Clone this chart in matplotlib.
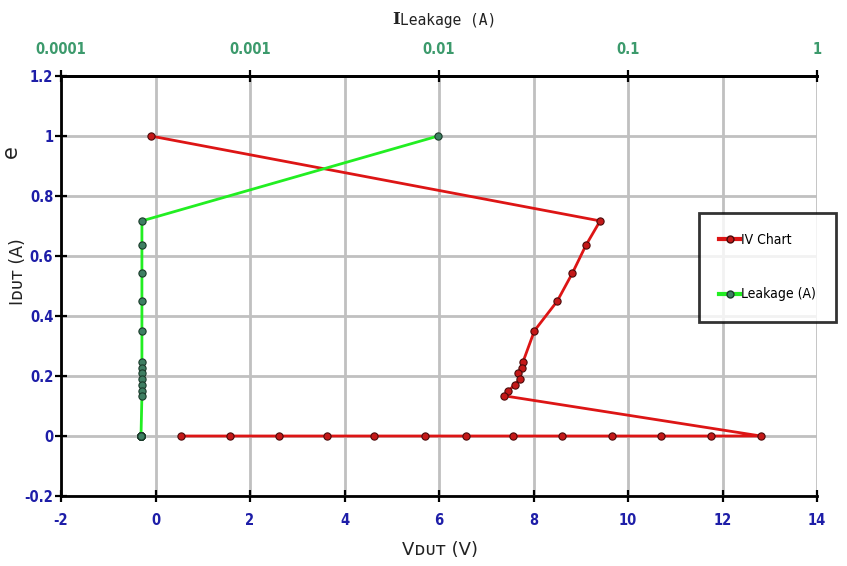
import matplotlib
matplotlib.use("Agg")
import matplotlib.pyplot as plt
from matplotlib.lines import Line2D

# IV sweep
v_dut = [-0.10, 9.41, 9.11, 8.82, 8.50, 8.02, 7.78, 7.76, 7.67, 7.71, 7.60, 7.47, 7.38,
         12.81, 11.76, 10.70, 9.66, 8.60, 7.57, 6.57, 5.70, 4.62, 3.63, 2.61, 1.58, 0.54]
i_dut = [1.00, 0.717, 0.636, 0.542, 0.449, 0.351, 0.248, 0.227, 0.211, 0.190, 0.171, 0.150, 0.134,
         0.0, 0.0, 0.0, 0.0, 0.0, 0.0, 0.0, 0.0, 0.0, 0.0, 0.0, 0.0, 0.0]
leakage = [0.0099] + [2.68e-4] * 12 + [2.65e-4] * 13

x_ticks = [-2, 0, 2, 4, 6, 8, 10, 12, 14]
y_ticks = [-0.2, 0, 0.2, 0.4, 0.6, 0.8, 1.0, 1.2]
y_labels = ["-0.2", "0", "0.2", "0.4", "0.6", "0.8", "1", "1.2"]
top_ticks = [1e-4, 1e-3, 1e-2, 1e-1, 1]
top_labels = ["0.0001", "0.001", "0.01", "0.1", "1"]

narrow = ["Liberation Sans Narrow", "DejaVu Sans"]
blue = "#1e1ea8"
green_txt = "#3c9a6c"

fig = plt.figure(figsize=(8.47, 5.66), dpi=100)
ax = fig.add_axes([61 / 847, 70 / 566, 756 / 847, 420 / 566])

ax.plot(v_dut, i_dut, color="#dd1515", lw=2, marker="o", ms=5.2,
        mfc="#c41818", mec="#4a0a0a", mew=0.8, zorder=3)
ax.set_xlim(-2, 14)
ax.set_ylim(-0.2, 1.2)
ax.set_xticks(x_ticks)
ax.set_xticklabels([str(t) for t in x_ticks])
ax.set_yticks(y_ticks)
ax.set_yticklabels(y_labels)
ax.grid(True, color="#c0c0c0", lw=2)
ax.set_axisbelow(True)
for s in ["left", "bottom", "top"]:
    ax.spines[s].set_linewidth(2)
    ax.spines[s].set_color("black")
ax.spines["right"].set_visible(False)
ax.tick_params(direction="inout", length=9, width=1.6, top=False, right=False)
for lab in ax.get_xticklabels() + ax.get_yticklabels():
    lab.set_family(narrow)
    lab.set_fontweight("bold")
    lab.set_fontstretch("condensed")
    lab.set_fontsize(10.5)
    lab.set_color(blue)
ax.tick_params(axis="x", pad=8)
ax.tick_params(axis="y", pad=1)

# leakage on the log top axis
ax2 = ax.twiny()
ax2.plot(leakage, i_dut, color="#22ee22", lw=2, marker="o", ms=5.2,
         mfc="#3e7e62", mec="#1a3a2a", mew=0.8, zorder=3)
ax2.set_xscale("log")
ax2.set_xlim(1e-4, 1)
ax2.set_xticks(top_ticks)
ax2.set_xticklabels(top_labels)
ax2.minorticks_off()
for s in ["left", "bottom", "right"]:
    ax2.spines[s].set_visible(False)
ax2.spines["top"].set_linewidth(2)
ax2.tick_params(axis="x", direction="inout", length=9, width=1.6, pad=9)
for lab in ax2.get_xticklabels():
    lab.set_family(narrow)
    lab.set_fontweight("bold")
    lab.set_fontstretch("condensed")
    lab.set_fontsize(10.5)
    lab.set_color(green_txt)

# axis titles
fig.text(440 / 847, 1 - 550 / 566, "V\u1d05\u1d1c\u1d1b (V)", ha="center", va="center",
         fontsize=13, family=["DejaVu Sans"], color="#222222")
fig.text(18 / 847, 1 - 272 / 566, "I\u1d05\u1d1c\u1d1b (A)", ha="center", va="center",
         rotation=90, fontsize=12.5, family=["DejaVu Sans"], color="#222222")
fig.text(400 / 847, 1 - 20 / 566, "I", ha="right", va="center", fontsize=12,
         family=["DejaVu Serif"], fontweight="bold", color="#222222")
fig.text(400 / 847, 1 - 20 / 566, "Leakage (A)", ha="left", va="center", fontsize=10.5,
         family=["DejaVu Sans Mono"], color="#222222")
fig.text(0.001, 1 - 152 / 566, "e", ha="left", va="center", rotation=90,
         fontsize=15, family=["DejaVu Sans"], color="#222222")

handles = [
    Line2D([], [], color="#dd1515", lw=3, marker="o", ms=5, mfc="#c41818", mec="#4a0a0a"),
    Line2D([], [], color="#22ee22", lw=3, marker="o", ms=5, mfc="#3e7e62", mec="#1a3a2a"),
]
leg = ax2.legend(handles, ["IV Chart", "Leakage (A)"], loc="upper left",
                 bbox_to_anchor=(699 / 847, 1 - 213 / 566), bbox_transform=fig.transFigure,
                 frameon=True, fancybox=False, handlelength=1.5, handletextpad=0.1,
                 labelspacing=2.9, borderpad=1.45, borderaxespad=0,
                 prop={"family": narrow, "size": 10, "stretch": "condensed"})
leg.get_frame().set_edgecolor("black")
leg.get_frame().set_linewidth(2)
leg.set_zorder(10)

fig.savefig("out.png", dpi=100)
